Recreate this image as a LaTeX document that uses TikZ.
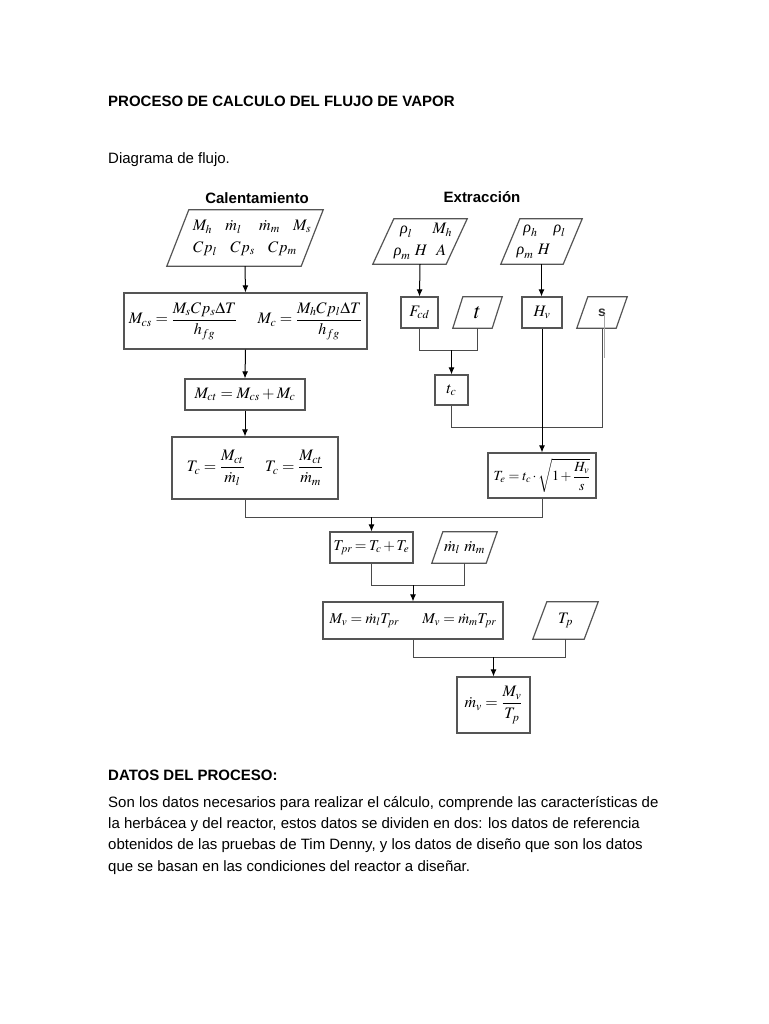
\documentclass[tikz,border=0pt]{standalone}
\usepackage{amsmath}
\usepackage{mathptmx}
\usepackage[no-math]{fontspec}
\setmainfont{Liberation Sans}
\newfontfamily\libserif{Liberation Serif}
\newcommand\rh{\mbox{\libserif\itshape ρ}}
\usetikzlibrary{arrows.meta}
\definecolor{boxc}{HTML}{555555}
\definecolor{linec}{HTML}{4A4A4A}
\tikzset{
  boxline/.style={draw=boxc, line width=1.2pt},
  rbox/.style={boxline, rectangle, inner sep=0pt, font=\fontsize{16}{19}\selectfont},
  pnode/.style={rectangle, inner sep=0pt, align=center, font=\fontsize{16}{21}\selectfont},
  conn/.style={draw=linec, line width=1pt},
  arr/.style={draw=black, line width=1pt, -{Latex[length=7pt,width=6pt]}},
  heading/.style={font=\fontsize{15}{18}\selectfont\bfseries, anchor=west, inner sep=0pt},
  body/.style={font=\fontsize{15}{21.3}\selectfont, inner sep=0pt},
  subhead/.style={font=\fontsize{15}{18}\selectfont\bfseries, inner sep=0pt}
}
\newcommand\parabox[7]{%
  \node[pnode, minimum width=#4pt, minimum height=#5pt] (#1) at (#2,#3) {#7};
  \draw[boxline] ([xshift=#6pt]#1.north west) -- (#1.north east) -- ([xshift=-#6pt]#1.south east) -- (#1.south west) -- cycle;}
\begin{document}
\begin{tikzpicture}[x=1pt,y=-1pt]
\useasboundingbox[fill=white] (0,0) rectangle (768,1024);

% texts
\node[heading] (title) at (108,101) {PROCESO DE CALCULO DEL FLUJO DE VAPOR};
\node[body, anchor=west] (diag) at (108,160) {Diagrama de flujo.};
\node[subhead] (cal) at (257,198) {Calentamiento};
\node[subhead] (ext) at (482,197) {Extracción};

% Calentamiento column
\parabox{p1}{245}{238}{156}{56}{22}{\hspace*{14pt}$M_h\ \ \ \dot m_l\ \ \ \ \dot m_m\ \ \ M_s$\\[1pt]$Cp_l\ \ \ Cp_s\ \ \ Cp_m$}
\node[rbox, minimum width=243pt, minimum height=56pt] (mcs) at (245.5,321)
  {$M_{cs}=\dfrac{M_s Cp_s\Delta T}{h_{fg}}\quad\ M_c=\dfrac{M_h Cp_l\Delta T}{h_{fg}}$};
\node[rbox, minimum width=120pt, minimum height=31pt] (mct) at (245,394.5) {$M_{ct}=M_{cs}+M_c$};
\node[rbox, minimum width=166pt, minimum height=62pt] (tc) at (255,468)
  {$T_c=\dfrac{M_{ct}}{\dot m_l}\quad\ T_c=\dfrac{M_{ct}}{\dot m_m}$};

% Extraccion column
\parabox{p2}{420}{241.5}{94}{45}{21}{\hspace*{12pt}$\rh_l\quad\ M_h$\\[1pt]$\rh_m\ H\ \ A$}
\parabox{p3}{541.5}{241.5}{81}{45}{19}{\hspace*{6pt}$\rh_h\quad\rh_l$\\[1pt]$\rh_m\ H\quad$}
\node[rbox, minimum width=37pt, minimum height=31pt] (fcd) at (419.5,312.5) {$F_{cd}$};
\parabox{tp1}{477.5}{312.5}{49}{31}{10}{\fontsize{22}{22}\selectfont$t$}
\node[rbox, minimum width=40pt, minimum height=31pt] (hv) at (542,312.5) {$H_v$};
\parabox{s}{602}{312.5}{50}{31}{11}{\fontsize{14}{14}\selectfont\bfseries\color{black!80}s}
\node[rbox, minimum width=33pt, minimum height=30pt] (tcs) at (451.5,390) {$t_c$};
\node[rbox, minimum width=108pt, minimum height=45pt, font=\fontsize{14}{17}\selectfont] (te) at (542,475.5)
  {$\thickmuskip=4mu\medmuskip=2mu T_e=t_c\cdot\sqrt{1+\dfrac{H_v}{s}}$};

% lower part
\node[rbox, minimum width=83pt, minimum height=31pt, font=\fontsize{15}{18}\selectfont] (tpr) at (371.5,547.5)
  {$\thickmuskip=3mu\medmuskip=2mu T_{pr}=T_c+T_e$};
\parabox{pm}{464.5}{547.5}{65}{31}{11}{$\dot m_l\ \dot m_m$}
\node[rbox, minimum width=180pt, minimum height=37pt, font=\fontsize{15}{18}\selectfont] (mv) at (413,620.5)
  {$M_v=\dot m_l T_{pr}\quad\ \ M_v=\dot m_m T_{pr}$};
\parabox{tp}{565.5}{620.5}{65}{37}{14}{$T_p$}
\node[rbox, minimum width=73pt, minimum height=56pt] (mvd) at (493.5,705)
  {$\dot m_v=\dfrac{M_v}{T_p}$};

% junction coordinates
\coordinate (j1) at (0,350);
\coordinate (j2) at (0,427);
\coordinate (j3) at (0,517);
\coordinate (j4) at (0,585);
\coordinate (j5) at (0,657);
\coordinate (sa) at (604,314);
\coordinate (sb) at (604,358);

% connectors
\draw[arr] (p1.south) -- (mcs.north);
\draw[arr] (mcs.south) -- (mct.north);
\draw[arr] (mct.south) -- (mct.south |- tc.north);
\draw[arr] (p2.south) -- (fcd.north);
\draw[arr] (p3.south) -- (p3.south |- hv.north);
\draw[conn] (fcd.south) -- (fcd.south |- j1) -- (tp1.south |- j1) -- (tp1.south);
\draw[arr] (tcs.north |- j1) -- (tcs.north);
\draw[conn] (tcs.south) -- (tcs.south |- j2) -- (s.south |- j2) -- (s.south);
\draw[draw=black!35, line width=0.8pt] (sa) -- (sb);
\draw[arr] (hv.south) -- (te.north);
\draw[conn] (mct.south |- tc.south) -- (mct.south |- j3) -- (te.south |- j3) -- (te.south);
\draw[arr] (tpr.north |- j3) -- (tpr.north);
\draw[conn] (tpr.south) -- (tpr.south |- j4) -- (pm.south |- j4) -- (pm.south);
\draw[arr] (mv.north |- j4) -- (mv.north);
\draw[conn] (mv.south) -- (mv.south |- j5) -- (tp.south |- j5) -- (tp.south);
\draw[arr] (mvd.north |- j5) -- (mvd.north);

% bottom text
\node[heading] (datos) at (108,775) {DATOS DEL PROCESO:};
\node[body, anchor=north west, align=left] (par) at (108,796)
  {Son los datos necesarios para realizar el cálculo, comprende las características de\\
   la herbácea y del reactor, estos datos se dividen en dos: los datos de referencia\\
   obtenidos de las pruebas de Tim Denny, y los datos de diseño que son los datos\\
   que se basan en las condiciones del reactor a diseñar.};
\end{tikzpicture}
\end{document}
